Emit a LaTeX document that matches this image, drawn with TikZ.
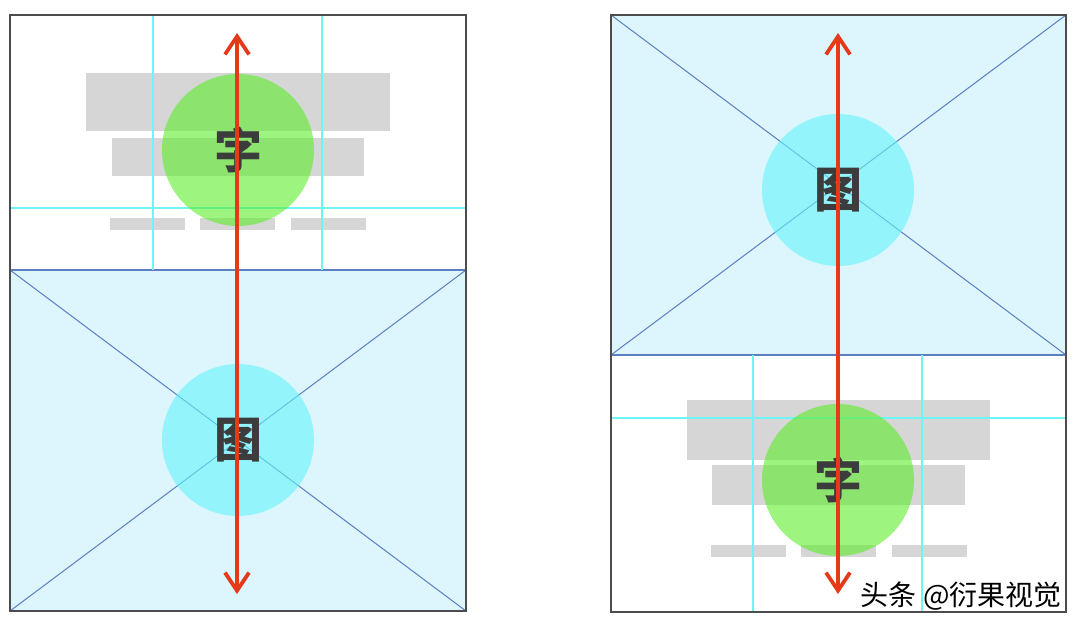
\documentclass[tikz,border=0pt]{standalone}
\usepackage{fontspec}
\newfontfamily\cjk{Noto Sans CJK SC}
\usetikzlibrary{positioning,calc,arrows.meta}
\definecolor{imgfill}{RGB}{221,245,253}
\definecolor{imgline}{RGB}{91,127,192}
\definecolor{guidecyan}{RGB}{110,245,245}
\definecolor{bargray}{RGB}{214,214,214}
\definecolor{zigreen}{RGB}{92,236,40}
\definecolor{tucyan}{RGB}{99,245,250}
\definecolor{arrred}{RGB}{229,57,26}
\definecolor{glyph}{RGB}{60,60,60}
\tikzset{pane/.style={draw=black!70,line width=0.6pt}  }
\tikzset{imgbox/.style={draw=imgline,fill=imgfill,line width=0.6pt}  }
\tikzset{diag/.style={draw=imgline,line width=0.5pt}  }
\tikzset{guide/.style={draw=guidecyan,line width=1pt}  }
\tikzset{bar/.style={fill=bargray}  }
\tikzset{zidot/.style={circle,fill=zigreen,fill opacity=0.6,text opacity=1,text=glyph,minimum size=76pt,inner sep=0pt,font=\cjk\bfseries\fontsize{24}{24}\selectfont}  }
\tikzset{tudot/.style={zidot,fill=tucyan}  }
\tikzset{updown/.style={draw=arrred,line width=1.9pt,{Straight Barb[length=9pt,width=12pt]}-{Straight Barb[length=9pt,width=12pt]}}  }

\begin{document}
\begin{tikzpicture}[x=0.5pt,y=-0.5pt]
	\useasboundingbox (0,0) rectangle (1080,627);
	% left panel: text above, picture below
	\draw[imgbox] (10,270) rectangle (466,611);
	\draw[diag] (10,270) -- (466,611) (466,270) -- (10,611);
	\fill[bar] (86,73) rectangle (390,131);
	\fill[bar] (112,138) rectangle (364,176);
	\foreach \x in {110,200,291}
		\fill[bar] (\x,218) rectangle ++(75,12);
	\draw[guide] (153,15) -- (153,270) (322,15) -- (322,270) (10,208) -- (466,208);
	\node[zidot] (zi1) at (238,150) {字};
	\node[tudot] (tu1) at (238,440) {图};
	\draw[pane] (10,15) rectangle (466,611);
		\coordinate (top1) at (237,33);
		\coordinate (bot1) at (237,594);
	\draw[updown] (top1) -- (bot1);
	% right panel: picture above, text below
	\draw[imgbox] (611,15) rectangle (1066,355);
	\draw[diag] (611,15) -- (1066,355) (1066,15) -- (611,355);
	\fill[bar] (687,400) rectangle (990,460);
	\fill[bar] (712,465) rectangle (965,505);
	\foreach \x in {711,801,892}
		\fill[bar] (\x,545) rectangle ++(75,12);
	\draw[guide] (753,355) -- (753,612) (922,355) -- (922,612) (611,418) -- (1066,418);
	\node[tudot] (tu2) at (838,190) {图};
	\node[zidot] (zi2) at (838,480) {字};
	\draw[pane] (611,15) rectangle (1066,612);
		\coordinate (top2) at (838,33);
		\coordinate (bot2) at (838,594);
	\draw[updown] (top2) -- (bot2);
	\node[anchor=east,inner sep=0pt,font=\cjk\fontsize{14}{14}\selectfont] (mark) at (1062,596) {头条 @衍果视觉};
\end{tikzpicture}
\end{document}
